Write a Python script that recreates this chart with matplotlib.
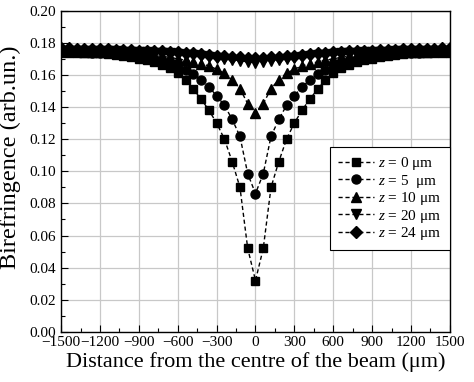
import matplotlib
matplotlib.use("Agg")
import matplotlib.pyplot as plt
from matplotlib.ticker import MultipleLocator, FuncFormatter

plt.rcParams['font.family'] = ['Liberation Serif', 'DejaVu Serif']
plt.rcParams['mathtext.fontset'] = 'custom'
plt.rcParams['mathtext.it'] = 'Liberation Serif:italic'
plt.rcParams['mathtext.rm'] = 'Liberation Serif'

x_um = [-1500, -1440, -1380, -1320, -1260, -1200, -1140, -1080, -1020, -960,
        -900, -840, -780, -720, -660, -600, -540, -480, -420, -360,
        -300, -240, -180, -120, -60, 0, 60, 120, 180, 240,
        300, 360, 420, 480, 540, 600, 660, 720, 780, 840,
        900, 960, 1020, 1080, 1140, 1200, 1260, 1320, 1380, 1440, 1500]

b_z0 = [0.1735, 0.1735, 0.1735, 0.1735, 0.1735, 0.1733, 0.1730, 0.1725, 0.1720, 0.1710,
        0.1700, 0.1690, 0.1680, 0.1660, 0.1640, 0.1610, 0.1570, 0.1510, 0.1450, 0.1380,
        0.1300, 0.1200, 0.1060, 0.0900, 0.0520, 0.0320, 0.0520, 0.0900, 0.1060, 0.1200,
        0.1300, 0.1380, 0.1450, 0.1510, 0.1570, 0.1610, 0.1640, 0.1660, 0.1680, 0.1690,
        0.1700, 0.1710, 0.1720, 0.1725, 0.1730, 0.1733, 0.1735, 0.1735, 0.1735, 0.1735, 0.1735]

b_z5 = [0.1740, 0.1740, 0.1740, 0.1740, 0.1738, 0.1737, 0.1735, 0.1732, 0.1728, 0.1722,
        0.1716, 0.1708, 0.1698, 0.1685, 0.1670, 0.1650, 0.1630, 0.1606, 0.1570, 0.1524,
        0.1470, 0.1410, 0.1323, 0.1217, 0.0985, 0.0861, 0.0985, 0.1217, 0.1323, 0.1410,
        0.1470, 0.1524, 0.1570, 0.1606, 0.1630, 0.1650, 0.1670, 0.1685, 0.1698, 0.1708,
        0.1716, 0.1722, 0.1728, 0.1732, 0.1735, 0.1737, 0.1738, 0.1740, 0.1740, 0.1740, 0.1740]

b_z10 = [0.1745, 0.1745, 0.1745, 0.1744, 0.1743, 0.1742, 0.1741, 0.1740, 0.1738, 0.1735,
         0.1730, 0.1725, 0.1720, 0.1715, 0.1708, 0.1700, 0.1690, 0.1680, 0.1670, 0.1655,
         0.1635, 0.1610, 0.1570, 0.1514, 0.1420, 0.1362, 0.1420, 0.1514, 0.1570, 0.1610,
         0.1635, 0.1655, 0.1670, 0.1680, 0.1690, 0.1700, 0.1708, 0.1715, 0.1720, 0.1725,
         0.1730, 0.1735, 0.1738, 0.1740, 0.1741, 0.1742, 0.1743, 0.1744, 0.1745, 0.1745, 0.1745]

b_z20 = [0.1750, 0.1750, 0.1750, 0.1749, 0.1748, 0.1747, 0.1746, 0.1745, 0.1744, 0.1743,
         0.1741, 0.1740, 0.1738, 0.1736, 0.1733, 0.1730, 0.1726, 0.1722, 0.1718, 0.1713,
         0.1707, 0.1700, 0.1695, 0.1688, 0.1680, 0.1675, 0.1680, 0.1688, 0.1695, 0.1700,
         0.1707, 0.1713, 0.1718, 0.1722, 0.1726, 0.1730, 0.1733, 0.1736, 0.1738, 0.1740,
         0.1741, 0.1743, 0.1744, 0.1745, 0.1746, 0.1747, 0.1748, 0.1749, 0.1750, 0.1750, 0.1750]

b_z24 = [0.1765, 0.1764, 0.1763, 0.1762, 0.1761, 0.1760, 0.1759, 0.1757, 0.1755, 0.1753,
         0.1751, 0.1749, 0.1747, 0.1745, 0.1742, 0.1740, 0.1737, 0.1735, 0.1730, 0.1725,
         0.1720, 0.1716, 0.1712, 0.1709, 0.1707, 0.1705, 0.1707, 0.1709, 0.1712, 0.1716,
         0.1720, 0.1725, 0.1730, 0.1735, 0.1737, 0.1740, 0.1742, 0.1745, 0.1747, 0.1749,
         0.1751, 0.1753, 0.1755, 0.1757, 0.1759, 0.1760, 0.1761, 0.1762, 0.1763, 0.1764, 0.1765]

series = [b_z24, b_z20, b_z10, b_z5, b_z0]
labels = ["$z$ = 24 μm", "$z$ = 20 μm", "$z$ = 10 μm", "$z$ = 5  μm", "$z$ = 0 μm"]
markers = ['D', 'v', '^', 'o', 's']
sizes = [6, 6.5, 6.5, 6.5, 6]

fig = plt.figure(figsize=(4.74, 3.82), dpi=100)
ax = fig.add_axes([0.129, 0.131, 0.820, 0.8415])

handles = {}
for y, lab, m, ms in zip(series, labels, markers, sizes):
    h, = ax.plot(x_um, y, linestyle=(0, (3, 2)), color='black', lw=1.0,
                 marker=m, ms=ms, mfc='black', mec='black', label=lab)
    handles[lab] = h

order = ["$z$ = 0 μm", "$z$ = 5  μm", "$z$ = 10 μm", "$z$ = 20 μm", "$z$ = 24 μm"]
leg = ax.legend([handles[k] for k in order], order, loc='center right',
                bbox_to_anchor=(1.0, 0.415), borderaxespad=0.0,
                frameon=True, fancybox=False,
                edgecolor='black', framealpha=1, fontsize=11, handlelength=2.3,
                handletextpad=0.3, labelspacing=0.03, borderpad=0.55)
leg.get_frame().set_linewidth(0.8)

ax.set_xlim(-1500, 1500)
ax.set_ylim(0, 0.20)
ax.xaxis.set_major_locator(MultipleLocator(300))
ax.xaxis.set_minor_locator(MultipleLocator(150))
ax.yaxis.set_major_locator(MultipleLocator(0.02))
ax.yaxis.set_minor_locator(MultipleLocator(0.01))
ax.xaxis.set_major_formatter(FuncFormatter(lambda v, p: f"{int(round(v))}".replace('-', '\u2212')))
ax.yaxis.set_major_formatter(FuncFormatter(lambda v, p: f"{v:.2f}"))
ax.tick_params(which='both', direction='in', labelsize=11, top=False, right=False)
ax.tick_params(axis='x', pad=3)
ax.tick_params(which='major', length=5, width=0.8)
ax.tick_params(which='minor', length=3, width=0.8)
ax.grid(True, which='major', color='#c8c8c8', lw=0.9)
ax.set_axisbelow(True)
for s in ax.spines.values():
    s.set_linewidth(1.0)

ax.set_xlabel("Distance from the centre of the beam (μm)", fontsize=16, labelpad=2)
ax.set_ylabel("Birefringence (arb.un.)", fontsize=17.5)
ax.yaxis.set_label_coords(-0.104, 0.543)

fig.savefig("out.png", dpi=100)
